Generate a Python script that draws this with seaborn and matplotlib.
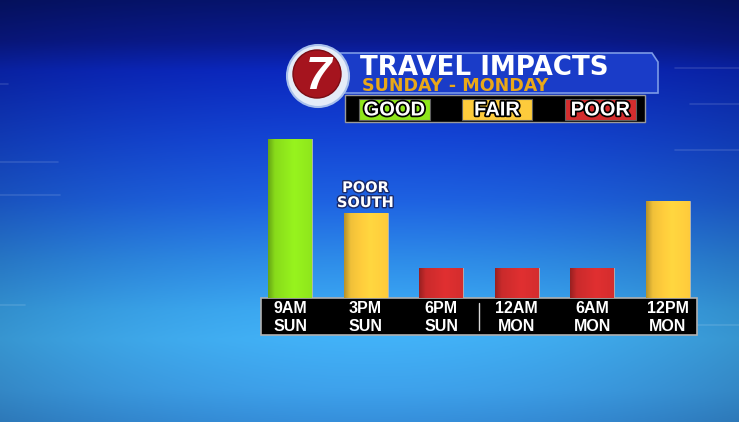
import numpy as np
import matplotlib
matplotlib.use("Agg")
import matplotlib.pyplot as plt
import seaborn as sns
from matplotlib import patheffects as pe
from matplotlib.colors import to_rgb
from matplotlib.patches import Rectangle, Circle, Polygon

times = ["9AM\nSUN", "3PM\nSUN", "6PM\nSUN", "12AM\nMON", "6AM\nMON", "12PM\nMON"]
impact = ["GOOD", "FAIR", "POOR", "POOR", "POOR", "FAIR"]
bar_height = [159, 85, 30, 30, 30, 97]
note_idx = 1
note_text = "POOR\nSOUTH"
levels = ["GOOD", "FAIR", "POOR"]
level_colors = {"GOOD": "#8fe61c", "FAIR": "#fdcb3c", "POOR": "#d42d2e"}

W, H = 739, 422
SANS = ["Liberation Sans", "DejaVu Sans"]

sns.set_theme(style="white")
fig = plt.figure(figsize=(W / 100, H / 100), dpi=100)


def shaded(color, n=64):
    # horizontal sheen: dark left edge, bright towards the right
    t = np.linspace(0, 1, n)
    f = np.interp(t, [0, 0.15, 0.6, 1.0], [0.72, 0.95, 1.06, 1.0])
    rgb = np.clip(np.outer(f, to_rgb(color)), 0, 1)
    return rgb[None, :, :]


# background gradient
bg = fig.add_axes([0, 0, 1, 1], zorder=0)
ys = np.linspace(0, H, 200)
stops_y = [0, 40, 70, 140, 200, 260, 310, 340, 390, 422]
stops_c = np.array([to_rgb(c) for c in
                    ["#06146e", "#0a1a8e", "#0b28c0", "#1446d6", "#1e62e2",
                     "#2e8ce9", "#3caaf4", "#42b2f8", "#3ea2ec", "#3690dc"]])
col = np.stack([np.interp(ys, stops_y, stops_c[:, k]) for k in range(3)], axis=-1)
xs = np.linspace(-1, 1, 300)
vign = 1 - 0.16 * xs ** 2
img = col[:, None, :] * vign[None, :, None]
bg.imshow(np.clip(img, 0, 1), extent=(0, W, H, 0), aspect="auto", origin="upper")
for (x0, x1, y) in [(0, 8, 84), (0, 58, 162), (0, 60, 195), (675, 739, 68), (690, 739, 104),
                    (675, 739, 150), (0, 25, 305), (560, 739, 325)]:
    bg.plot([x0, x1], [y, y], color="white", alpha=0.12, lw=1.2)
bg.set_xlim(0, W)
bg.set_ylim(H, 0)
bg.axis("off")

# bars
ax = fig.add_axes([261 / W, (H - 298) / H, 436 / W, 168 / H], zorder=2)
ax.set_facecolor("none")
sns.barplot(x=times, y=bar_height, hue=impact, hue_order=levels, palette=level_colors,
            order=times, dodge=False, width=0.58, legend=False, saturation=1,
            edgecolor="#b8b8b8", linewidth=0.6, ax=ax)
for p in list(ax.patches):
    h = p.get_height()
    if not np.isfinite(h) or h <= 0:
        continue
    x0, w = p.get_x(), p.get_width()
    im = ax.imshow(shaded(p.get_facecolor()), extent=(x0, x0 + w, 0, h),
                   aspect="auto", zorder=p.get_zorder() + 0.1)
    im.set_clip_path(p)

ax.set_xlim(-0.384, 5.384)
ax.set_ylim(0, 168)
sns.despine(ax=ax, left=True, bottom=True)
ax.set_yticks([])
ax.set_xlabel("")
ax.set_ylabel("")
ax.tick_params(axis="x", length=0, pad=2.5, labelcolor="white", labelsize=11.5)
for lab in ax.get_xticklabels():
    lab.set_fontweight("bold")
    lab.set_family(SANS)
    lab.set_linespacing(1.2)

ax.add_patch(Rectangle((0, -37 / 168), 1, 37 / 168, transform=ax.transAxes,
                       facecolor="black", edgecolor="#b0b0b0", lw=1.2,
                       clip_on=False, zorder=0.5))
ax.plot([2.5, 2.5], [-5, -32], color="#d8d8d8", lw=1, clip_on=False, zorder=1)

ax.text(note_idx, bar_height[note_idx] + 3, note_text, ha="center", va="bottom",
        color="white", fontsize=10.5, fontweight="bold", linespacing=1.0,
        family=["DejaVu Sans"],
        path_effects=[pe.withStroke(linewidth=2, foreground="#1a2a6a")])

# header, logo and key
ov = fig.add_axes([0, 0, 1, 1], zorder=3)
ov.set_facecolor("none")
ban = Polygon([(340, 53), (652, 53), (658, 62), (658, 93), (340, 93)], closed=True,
              facecolor="#1a3cc8", edgecolor="#7c9ae6", lw=1.2)
ov.add_patch(ban)
t = np.linspace(0, 1, 40)
bcol = np.stack([np.interp(t, [0, 0.5, 1], [a, b, c]) for a, b, c in
                 zip(to_rgb("#2c54dc"), to_rgb("#1a3ac8"), to_rgb("#1230b6"))], axis=-1)
bim = ov.imshow(bcol[:, None, :], extent=(340, 658, 93, 53), aspect="auto", origin="upper")
bim.set_clip_path(ban)

ov.add_patch(Circle((318, 76), 31, facecolor="#e4ecf8", edgecolor="#a8c0ec", lw=1.5))
ov.add_patch(Circle((317, 74), 24, facecolor="#a5141e", edgecolor="#7a0c14", lw=1))
ov.text(319, 77, "7", ha="center", va="center", color="white", fontsize=33,
        fontweight="bold", style="italic", family=SANS)

ov.text(360, 75, "TRAVEL IMPACTS", ha="left", va="baseline", color="white",
        fontsize=18.8, fontweight="bold", family=["DejaVu Sans"])
ov.text(362, 91, "SUNDAY - MONDAY", ha="left", va="baseline", color="#eaa818",
        fontsize=12.6, fontweight="bold", family=["DejaVu Sans"])

ov.add_patch(Rectangle((345, 95), 300, 27, facecolor="black", edgecolor="#9a9a9a", lw=1))
chips = [(359, 71), (462, 70), (565, 71)]
for (cx, cw), lvl in zip(chips, levels):
    chip = Rectangle((cx, 99), cw, 21, facecolor=level_colors[lvl], edgecolor="#606060", lw=0.8)
    ov.add_patch(chip)
    cim = ov.imshow(shaded(level_colors[lvl]), extent=(cx, cx + cw, 120, 99),
                    aspect="auto", origin="upper")
    cim.set_clip_path(chip)
    ov.text(cx + cw / 2, 110, lvl, ha="center", va="center", color="white",
            fontsize=14.5, fontweight="bold", family=SANS,
            path_effects=[pe.withStroke(linewidth=2.5, foreground="black")])

ov.set_xlim(0, W)
ov.set_ylim(H, 0)
ov.axis("off")

fig.savefig("out.png", dpi=100)
